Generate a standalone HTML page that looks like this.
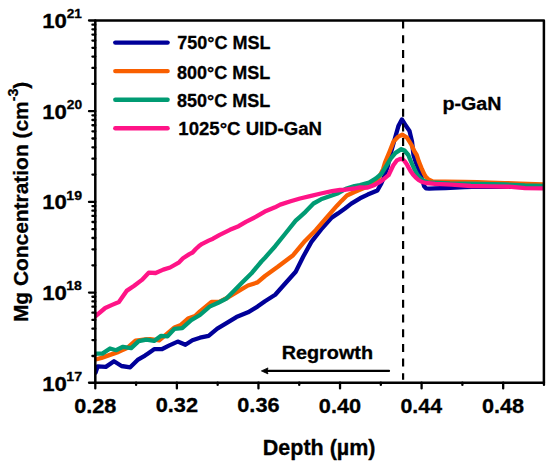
<!DOCTYPE html>
<html><head><meta charset="utf-8"><style>
html,body{margin:0;padding:0;background:#fff;}
svg{display:block;}
text{font-family:"Liberation Sans",sans-serif;font-weight:bold;fill:#000;stroke:#000;stroke-width:0.3px;stroke-linejoin:round;}
.tk line{stroke:#000;stroke-width:2.3;stroke-linecap:round;}
</style></head><body>
<svg width="550" height="469" viewBox="0 0 550 469">
<rect width="550" height="469" fill="#fff"/>
<defs><clipPath id="pc"><rect x="95.3" y="20.5" width="448.60" height="362.25"/></clipPath></defs>
<g fill="none" stroke-linejoin="round" stroke-linecap="round" stroke-width="4.3" clip-path="url(#pc)">
<polyline points="95.6,372.5 97.7,366.4 105.8,366.9 114.0,361.3 121.5,366.0 130.2,367.3 137.6,359.9 145.0,355.6 147.7,353.7 154.1,349.2 161.7,349.2 169.4,345.4 177.7,341.6 185.4,344.8 192.4,340.3 200.0,337.7 208.6,335.8 217.3,328.6 226.9,322.9 236.4,317.1 248.0,312.3 257.5,306.6 265.0,301.2 275.2,294.8 285.4,283.3 295.7,271.8 303.3,256.5 311.4,241.9 321.0,229.6 331.7,217.6 338.0,213.4 345.0,208.5 351.3,203.6 360.0,198.3 367.7,194.6 377.4,190.5 380.9,184.3 384.3,176.3 387.8,166.0 389.8,156.7 394.6,139.5 398.4,126.1 401.9,119.4 406.1,126.1 409.5,130.9 412.0,141.4 413.5,155.0 415.5,161.4 418.0,167.8 420.5,174.2 422.3,180.0 424.0,186.0 426.0,188.4 429.1,188.6 435.0,188.4 445.5,188.0 464.5,187.2 479.8,186.7 490.0,186.8 543.0,187.0" stroke="#000099"/>
<polyline points="95.6,359.5 101.5,357.9 110.0,354.9 118.6,351.9 127.0,348.1 135.5,340.7 140.0,340.0 145.0,339.3 150.2,339.2 159.2,340.4 166.9,333.9 174.5,327.5 180.9,324.9 188.0,318.5 195.0,316.0 200.0,311.3 211.5,301.8 219.2,301.8 228.8,297.0 238.4,291.2 248.0,285.5 257.5,282.4 265.0,276.0 277.8,266.8 293.1,255.2 305.0,240.9 315.7,230.2 326.3,217.9 337.0,205.7 341.5,200.9 346.9,195.5 354.5,192.0 362.2,188.8 370.5,185.3 377.4,180.5 383.0,169.4 385.0,162.5 389.8,151.0 393.6,141.4 398.4,136.6 402.2,134.7 407.0,137.6 411.5,145.0 414.5,151.5 416.7,155.0 418.8,161.4 421.4,167.8 424.2,174.2 426.0,177.0 428.5,179.5 432.7,181.5 445.5,181.7 464.5,182.0 477.3,182.2 490.0,182.7 505.0,183.1 520.0,183.6 543.0,184.3" stroke="#f95f00"/>
<polyline points="95.6,353.6 102.4,353.6 110.0,348.5 116.0,350.2 123.0,346.8 131.2,348.1 138.7,341.2 146.4,339.6 154.1,340.9 161.1,335.8 167.5,336.4 174.5,328.8 182.2,328.1 191.2,320.2 200.0,315.0 209.6,306.6 218.2,302.7 225.9,298.9 233.6,291.2 242.2,282.6 251.8,273.0 261.4,261.5 265.0,257.7 275.2,246.2 285.4,233.5 295.7,220.7 300.0,216.8 305.5,211.8 313.5,203.5 321.0,199.3 331.7,195.5 338.2,193.2 345.8,188.9 354.5,186.1 360.0,185.0 369.1,182.6 376.0,178.4 381.6,173.6 387.1,164.6 390.7,158.6 395.5,152.9 401.3,149.1 404.5,150.5 408.3,155.0 410.3,160.0 412.5,165.0 414.8,170.0 417.3,174.5 420.0,178.0 423.0,180.5 428.0,182.4 450.0,183.4 480.0,184.0 505.0,184.5 525.0,185.4 543.0,185.8" stroke="#009b73"/>
<polyline points="95.3,316.3 105.2,308.0 112.1,304.9 118.9,302.0 126.6,290.9 134.2,285.8 141.9,279.9 148.7,272.7 155.6,273.0 163.3,269.6 170.1,267.5 179.1,262.3 183.0,258.3 189.4,254.1 192.6,252.5 195.8,249.0 199.0,246.1 202.2,243.8 208.6,240.6 213.0,238.7 219.7,234.9 229.9,229.8 238.6,226.2 245.9,221.8 256.1,216.7 264.8,211.6 275.0,207.3 280.2,204.6 290.6,201.3 300.0,198.5 310.0,196.2 320.9,193.5 332.0,191.2 340.0,190.0 343.6,189.8 354.5,188.5 360.0,187.4 367.0,187.7 374.6,185.0 381.6,180.8 388.5,175.2 393.3,165.2 396.8,160.4 400.0,159.0 402.2,159.0 404.5,161.0 407.0,164.6 410.5,171.0 413.0,174.5 415.6,177.4 418.5,180.0 422.0,182.0 426.2,183.0 435.0,183.8 451.8,184.6 470.9,186.0 490.0,186.3 512.0,186.8 525.0,188.2 543.0,188.4" stroke="#ff1487"/>
</g>
<line x1="403.1" y1="20.5" x2="403.1" y2="379.8" stroke="#000" stroke-width="2.2" stroke-dasharray="8 6.7"/>
<g class="tk">
<line x1="89.0" y1="20.50" x2="95.3" y2="20.50"/>
<line x1="89.0" y1="111.20" x2="95.3" y2="111.20"/>
<line x1="89.0" y1="201.90" x2="95.3" y2="201.90"/>
<line x1="89.0" y1="292.60" x2="95.3" y2="292.60"/>
<line x1="89.0" y1="382.75" x2="95.3" y2="382.75"/>
<line x1="92.4" y1="356.00" x2="95.3" y2="356.00"/>
<line x1="92.4" y1="340.03" x2="95.3" y2="340.03"/>
<line x1="92.4" y1="328.69" x2="95.3" y2="328.69"/>
<line x1="92.4" y1="319.90" x2="95.3" y2="319.90"/>
<line x1="92.4" y1="312.72" x2="95.3" y2="312.72"/>
<line x1="92.4" y1="306.65" x2="95.3" y2="306.65"/>
<line x1="92.4" y1="301.39" x2="95.3" y2="301.39"/>
<line x1="92.4" y1="296.75" x2="95.3" y2="296.75"/>
<line x1="92.4" y1="265.30" x2="95.3" y2="265.30"/>
<line x1="92.4" y1="249.33" x2="95.3" y2="249.33"/>
<line x1="92.4" y1="237.99" x2="95.3" y2="237.99"/>
<line x1="92.4" y1="229.20" x2="95.3" y2="229.20"/>
<line x1="92.4" y1="222.02" x2="95.3" y2="222.02"/>
<line x1="92.4" y1="215.95" x2="95.3" y2="215.95"/>
<line x1="92.4" y1="210.69" x2="95.3" y2="210.69"/>
<line x1="92.4" y1="206.05" x2="95.3" y2="206.05"/>
<line x1="92.4" y1="174.60" x2="95.3" y2="174.60"/>
<line x1="92.4" y1="158.63" x2="95.3" y2="158.63"/>
<line x1="92.4" y1="147.29" x2="95.3" y2="147.29"/>
<line x1="92.4" y1="138.50" x2="95.3" y2="138.50"/>
<line x1="92.4" y1="131.32" x2="95.3" y2="131.32"/>
<line x1="92.4" y1="125.25" x2="95.3" y2="125.25"/>
<line x1="92.4" y1="119.99" x2="95.3" y2="119.99"/>
<line x1="92.4" y1="115.35" x2="95.3" y2="115.35"/>
<line x1="92.4" y1="83.90" x2="95.3" y2="83.90"/>
<line x1="92.4" y1="67.93" x2="95.3" y2="67.93"/>
<line x1="92.4" y1="56.59" x2="95.3" y2="56.59"/>
<line x1="92.4" y1="47.80" x2="95.3" y2="47.80"/>
<line x1="92.4" y1="40.62" x2="95.3" y2="40.62"/>
<line x1="92.4" y1="34.55" x2="95.3" y2="34.55"/>
<line x1="92.4" y1="29.29" x2="95.3" y2="29.29"/>
<line x1="92.4" y1="24.65" x2="95.3" y2="24.65"/>
<line x1="95.30" y1="382.75" x2="95.30" y2="388.4"/>
<line x1="176.88" y1="382.75" x2="176.88" y2="388.4"/>
<line x1="258.45" y1="382.75" x2="258.45" y2="388.4"/>
<line x1="340.03" y1="382.75" x2="340.03" y2="388.4"/>
<line x1="421.60" y1="382.75" x2="421.60" y2="388.4"/>
<line x1="503.18" y1="382.75" x2="503.18" y2="388.4"/>
<line x1="136.09" y1="382.75" x2="136.09" y2="384.9"/>
<line x1="217.66" y1="382.75" x2="217.66" y2="384.9"/>
<line x1="299.24" y1="382.75" x2="299.24" y2="384.9"/>
<line x1="380.82" y1="382.75" x2="380.82" y2="384.9"/>
<line x1="462.39" y1="382.75" x2="462.39" y2="384.9"/>
<line x1="543.97" y1="382.75" x2="543.97" y2="384.9"/>
</g>
<path d="M95.3,382.75 L95.3,20.5 L543.9,20.5 L543.9,382.75 Z" fill="none" stroke="#000" stroke-width="2.5" stroke-linejoin="round"/>
<text transform="translate(42.20,27.90) scale(1.073,1)" style="font-size:20.70px" >10</text>
<text transform="translate(66.73,18.30) scale(0.994,1)" style="font-size:13.70px" >21</text>
<text transform="translate(42.20,118.60) scale(1.073,1)" style="font-size:20.70px" >10</text>
<text transform="translate(66.72,108.87) scale(1.007,1)" style="font-size:13.70px" >20</text>
<text transform="translate(42.20,209.30) scale(1.073,1)" style="font-size:20.70px" >10</text>
<text transform="translate(66.31,199.57) scale(1.031,1)" style="font-size:13.70px" >19</text>
<text transform="translate(42.20,300.00) scale(1.073,1)" style="font-size:20.70px" >10</text>
<text transform="translate(66.32,290.27) scale(1.025,1)" style="font-size:13.70px" >18</text>
<text transform="translate(42.20,390.70) scale(1.073,1)" style="font-size:20.70px" >10</text>
<text transform="translate(66.30,381.10) scale(1.038,1)" style="font-size:13.70px" >17</text>
<text transform="translate(74.14,412.50) scale(1.064,1)" style="font-size:20.34px" >0.28</text>
<text transform="translate(155.72,412.47) scale(1.072,1)" style="font-size:20.30px" >0.32</text>
<text transform="translate(237.29,412.47) scale(1.069,1)" style="font-size:20.30px" >0.36</text>
<text transform="translate(318.87,412.50) scale(1.070,1)" style="font-size:20.34px" >0.40</text>
<text transform="translate(400.46,412.50) scale(1.050,1)" style="font-size:20.34px" >0.44</text>
<text transform="translate(482.02,412.50) scale(1.064,1)" style="font-size:20.34px" >0.48</text>
<text transform="translate(442.40,110.20) scale(1.075,1)" style="font-size:18.33px" >p-GaN</text>
<text transform="translate(281.67,358.97) scale(1.125,1)" style="font-size:17.62px" >Regrowth</text>
<text transform="translate(262.76,455.44) scale(1.003,1)" style="font-size:21.45px" >Depth (µm)</text>
<line x1="115.3" y1="42.6" x2="167.6" y2="42.6" stroke="#000099" stroke-width="4.4" stroke-linecap="round"/>
<text transform="translate(177.23,49.31) scale(0.948,1)" style="font-size:19.00px" >750°C MSL</text>
<line x1="115.3" y1="71.1" x2="167.6" y2="71.1" stroke="#f95f00" stroke-width="4.4" stroke-linecap="round"/>
<text transform="translate(177.03,78.51) scale(0.948,1)" style="font-size:19.00px" >800°C MSL</text>
<line x1="115.3" y1="99.7" x2="167.6" y2="99.7" stroke="#009b73" stroke-width="4.4" stroke-linecap="round"/>
<text transform="translate(177.03,107.31) scale(0.948,1)" style="font-size:19.00px" >850°C MSL</text>
<line x1="115.3" y1="128.3" x2="167.6" y2="128.3" stroke="#ff1487" stroke-width="4.4" stroke-linecap="round"/>
<text transform="translate(178.33,135.21) scale(0.978,1)" style="font-size:19.00px" >1025°C UID-GaN</text>
<line x1="266" y1="370.9" x2="389" y2="370.9" stroke="#000" stroke-width="2.3" stroke-linecap="round"/>
<path d="M261.4,370.9 L268,367.9 L267,370.9 L268,373.9 Z" fill="#000" stroke="#000" stroke-width="0.8" stroke-linejoin="round"/>
<text transform="translate(27.7,322.10) rotate(-90) scale(1.016,1)" style="font-size:20.6px">Mg Concentration (cm<tspan dy="-9.5" style="font-size:14px">-3</tspan><tspan dy="9.5">)</tspan></text>
</svg>
</body></html>
